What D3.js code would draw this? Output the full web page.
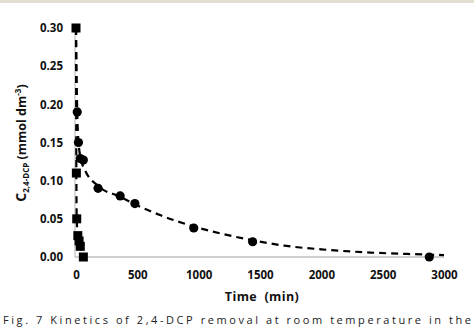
<!DOCTYPE html>
<html>
<head>
<meta charset="utf-8">
<script src="https://cdn.jsdelivr.net/npm/d3@7"></script>
<style>
  html, body { margin: 0; padding: 0; background: #ffffff; }
  svg { display: block; }
  text { font-family: "Open Sans", sans-serif; }
</style>
</head>
<body>
<svg id="chart" width="474" height="327"></svg>
<script>
// ---- data ----
const squareTimes  = [0, 3, 6, 15, 25, 35, 60];
const squareValues = [0.30, 0.11, 0.05, 0.028, 0.021, 0.014, 0.0];

const circleTimes  = [10, 20, 35, 60, 180, 360, 480, 960, 1440, 2880];
const circleValues = [0.19, 0.15, 0.129, 0.127, 0.090, 0.080, 0.070, 0.038, 0.020, 0.0];

// dashed fitted curves
const fitSquareTimes  = [0, 3, 6, 15, 25, 35, 60];
const fitSquareValues = [0.30, 0.11, 0.05, 0.028, 0.020, 0.014, 0.001];
const fitCircleTimes  = [0, 10, 20, 40, 70, 180, 360, 480, 700, 960, 1200, 1440, 1700, 2000, 2400, 2700, 3000];
const fitCircleValues = [0.30, 0.19, 0.152, 0.128, 0.115, 0.093, 0.079, 0.069, 0.054, 0.040, 0.030, 0.022, 0.0148, 0.0100, 0.0058, 0.0040, 0.0025];

const xTicks = [0, 500, 1000, 1500, 2000, 2500, 3000];
const yTicks = [0.00, 0.05, 0.10, 0.15, 0.20, 0.25, 0.30];

const xTitle = "Time  (min)";
const caption = "Fig. 7  Kinetics of 2,4-DCP removal at room temperature in the";

// ---- layout ----
const svg = d3.select("#chart");
const x = d3.scaleLinear().domain([0, 3000]).range([76, 444]);
const y = d3.scaleLinear().domain([0, 0.30]).range([257, 28]);

// top beige band
svg.append("rect").attr("x", 0).attr("y", 0).attr("width", 474).attr("height", 3).attr("fill", "#e4ddd0");

// axes lines (gray)
svg.append("line")
  .attr("x1", x(0) - 1).attr("x2", x(0) - 1)
  .attr("y1", y(0.30)).attr("y2", y(0))
  .attr("stroke", "#bfbfbf").attr("stroke-width", 1.2);
svg.append("line")
  .attr("x1", x(0) - 1).attr("x2", x(3000))
  .attr("y1", y(0)).attr("y2", y(0))
  .attr("stroke", "#bfbfbf").attr("stroke-width", 1.6);

// tick labels via d3 axes
const xAxis = d3.axisBottom(x).tickValues(xTicks).tickFormat(d3.format("d")).tickSize(0).tickPadding(14);
const gx = svg.append("g").attr("transform", `translate(0,${y(0)})`).call(xAxis);
gx.select(".domain").remove();
gx.selectAll("text").attr("font-family", "Open Sans").attr("font-weight", "bold").attr("font-size", 11.5).attr("fill", "#111");

const yAxis = d3.axisLeft(y).tickValues(yTicks).tickFormat(d3.format(".2f")).tickSize(0).tickPadding(13);
const gy = svg.append("g").attr("transform", `translate(${x(0)},0)`).call(yAxis);
gy.select(".domain").remove();
gy.selectAll("text").attr("font-family", "Open Sans").attr("font-weight", "bold").attr("font-size", 11.5).attr("fill", "#111");

// fitted dashed curves
const lineGen = d3.line().x(d => x(d[0])).y(d => y(d[1])).curve(d3.curveMonotoneX);
const fitSq = fitSquareTimes.map((t, i) => [t, fitSquareValues[i]]);
const fitCi = fitCircleTimes.map((t, i) => [t, fitCircleValues[i]]);
[fitSq, fitCi].forEach(pts => {
  svg.append("path").attr("d", lineGen(pts))
    .attr("fill", "none").attr("stroke", "#000").attr("stroke-width", 2.2)
    .attr("stroke-dasharray", "7,5");
});

// markers
svg.append("g").selectAll("rect")
  .data(squareTimes.map((t, i) => [t, squareValues[i]]))
  .join("rect")
  .attr("x", d => x(d[0]) - 4.5).attr("y", d => y(d[1]) - 4.5)
  .attr("width", 9).attr("height", 9).attr("fill", "#000");

svg.append("g").selectAll("circle")
  .data(circleTimes.map((t, i) => [t, circleValues[i]]))
  .join("circle")
  .attr("cx", d => x(d[0])).attr("cy", d => y(d[1]))
  .attr("r", 4.6).attr("fill", "#000");

// x title
svg.append("text")
  .attr("x", 262).attr("y", 301)
  .attr("text-anchor", "middle")
  .attr("font-weight", "bold").attr("font-size", 12.5)
  .attr("letter-spacing", 0.4)
  .attr("fill", "#111")
  .style("white-space", "pre")
  .text(xTitle);

// y title
const yt = svg.append("text")
  .attr("transform", "translate(26,143) rotate(-90)")
  .attr("text-anchor", "middle")
  .attr("font-weight", "bold").attr("font-size", 12.5)
  .attr("fill", "#111");
yt.append("tspan").attr("font-size", 14).text("C");
yt.append("tspan").attr("font-size", 8).attr("dy", 3).text("2,4-DCP");
yt.append("tspan").attr("dy", -3).text(" (mmol dm");
yt.append("tspan").attr("font-size", 8).attr("dy", -5).text("-3");
yt.append("tspan").attr("dy", 5).text(")");

// caption at the bottom edge
svg.append("text")
  .attr("x", 3).attr("y", 324)
  .attr("font-family", "Liberation Sans").attr("font-size", 11)
  .attr("fill", "#222")
  .attr("textLength", 468).attr("lengthAdjust", "spacing")
  .text(caption);
</script>
</body>
</html>
